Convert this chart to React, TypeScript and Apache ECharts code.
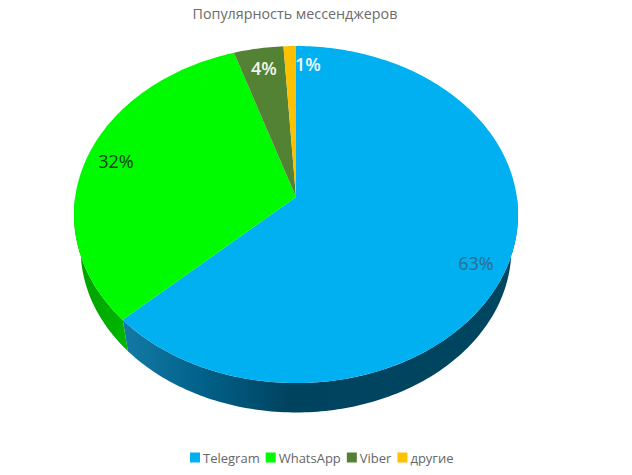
import React, { useEffect, useRef } from "react";
import * as echarts from "echarts";

const chartTitle = "Популярность мессенджеров";
const categories = ["Telegram", "WhatsApp", "Viber", "другие"];
const shares = [63, 32, 4, 1];
const tickLabels = ["63%", "32%", "4%", "1%"];

const colors = ["#00b0f0", "#00fa00", "#548235", "#ffc000"];
const labelColors = ["#2c6f8c", "#0a3f14", "#f2f5ee", "#eefaff"];
const labelWeights = [400, 500, 600, 600];
const labelCenters = [[476, 263], [116, 161], [264, 68], [308, 64]];

// Perspective projection of the disc
const CX = 296, CY = 197, RX = 220.8, RY = 166.7, K = 0.104;
const BASE_SCALE = 0.97, BASE_DROP = 35;

function project(deg: number, scale: number, drop: number) {
  const t = (deg * Math.PI) / 180;
  const u = Math.sin(t), v = -Math.cos(t), w = 1 - K * v;
  return [CX + (scale * RX * u) / w, CY + drop + (scale * RY * v) / w];
}
function arc(a0: number, a1: number, scale: number, drop: number) {
  const n = Math.max(2, Math.ceil(Math.abs(a1 - a0)));
  const pts: number[][] = [];
  for (let i = 0; i <= n; i++) pts.push(project(a0 + ((a1 - a0) * i) / n, scale, drop));
  return pts;
}

function sideFill(index: number) {
  if (index === 0)
    return new echarts.graphic.LinearGradient(123, 0, 518, 0, [
      { offset: 0, color: "#137aa5" },
      { offset: 0.2, color: "#02618a" },
      { offset: 0.42, color: "#00435f" },
      { offset: 1, color: "#00465f" },
    ], true);
  return new echarts.graphic.LinearGradient(78, 0, 128, 0, [
    { offset: 0, color: "#00a000" },
    { offset: 1, color: "#00b800" },
  ], true);
}

export default function App() {
  const ref = useRef<HTMLDivElement>(null);
  useEffect(() => {
    const chart = echarts.init(ref.current!, null, { renderer: "svg" });
    const total = shares.reduce((a, b) => a + b, 0);
    let running = 0;
    const series = categories.map((name, index) => {
      const start = running;
      running += shares[index];
      return {
        type: "custom",
        name,
        coordinateSystem: "none",
        silent: true,
        itemStyle: { color: colors[index] },
        data: [[shares[index], start]],
        renderItem: (_p: any, api: any) => {
          const a0 = (api.value(1) / total) * 360;
          const a1 = ((api.value(1) + api.value(0)) / total) * 360;
          const children: any[] = [];
          const s0 = Math.max(a0, 90), s1 = Math.min(a1, 270);
          if (s1 > s0) {
            children.push({
              type: "polygon",
              z2: 1,
              shape: { points: [...arc(s0, s1, 1, 0), ...arc(s1, s0, BASE_SCALE, BASE_DROP)] },
              style: { fill: sideFill(index) },
            });
          }
          children.push({
            type: "polygon",
            z2: 2,
            shape: { points: [[CX, CY], ...arc(a0, a1, 1, 0)] },
            style: { fill: colors[index] },
          });
          children.push({
            type: "text",
            z2: 3,
            x: labelCenters[index][0],
            y: labelCenters[index][1],
            style: {
              text: tickLabels[index],
              fill: labelColors[index],
              fontFamily: "Open Sans",
              fontSize: 18,
              fontWeight: labelWeights[index],
              align: "center",
              verticalAlign: "middle",
            },
          });
          return { type: "group", children };
        },
      };
    });
    chart.setOption({
      animation: false,
      backgroundColor: "#ffffff",
      title: {
        text: chartTitle,
        left: 290,
        textAlign: "center",
        top: 1,
        textStyle: { color: "#6b6b6b", fontSize: 14.3, fontWeight: 400, fontFamily: "Open Sans" },
      },
      legend: {
        data: categories,
        left: 185,
        top: 446,
        icon: "rect",
        itemWidth: 10,
        itemHeight: 10,
        itemGap: 6,
        textStyle: { color: "#666666", fontSize: 13, fontFamily: "Open Sans", padding: [0, 0, 0, -2] },
      },
      series,
    });
    return () => chart.dispose();
  }, []);
  return <div ref={ref} style={{ position: "absolute", left: 0, top: 0, width: 632, height: 475 }} />;
}
